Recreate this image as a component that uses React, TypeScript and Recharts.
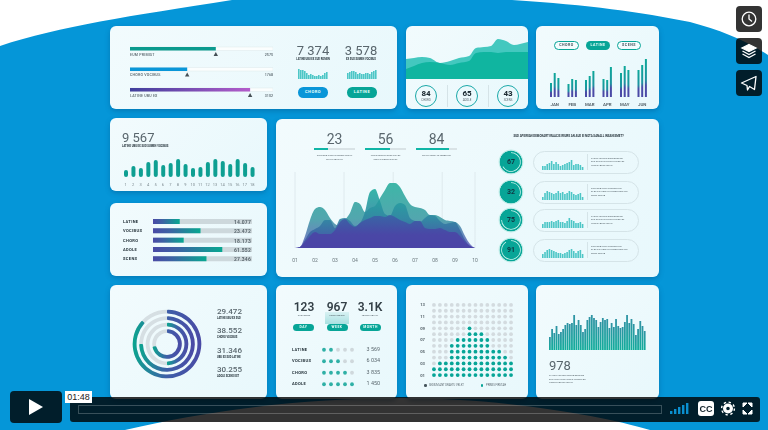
import {
  Area,
  AreaChart,
  Bar,
  BarChart,
  CartesianGrid,
  Cell,
  Pie,
  PieChart,
  PolarAngleAxis,
  RadialBar,
  RadialBarChart,
  Scatter,
  ScatterChart,
  XAxis,
  YAxis
} from 'recharts'

const TEAL = '#07a597'
const INDIGO = '#4a4aa6'
const MINT = '#4dc6c6'
const GREY = '#59666d'
const DARK = '#1d2b33'

// top left card
const progressNames = ['EUM PRIMIST', 'CHORO VOCIBUS', 'LATINE UBU EX']
const progressTotals = ['2575', '1768', '3102']
const progressValues = [60, 40, 84]
const progressFills = ['#0b9a8e', '#0a96d8', 'url(#purpleGrad)']
const spark1 = [10, 9, 9, 8, 6, 4, 5, 4, 3, 3, 4, 3, 4, 6, 7]
const spark2 = [6, 7, 8, 8, 7, 5, 6, 5, 5, 6, 6, 5, 7, 8, 9]

// small area card
const ridgeX = [0, 8, 16, 24, 34, 44, 53, 63, 70, 78, 85, 92, 100, 108, 114, 122]
const ridgeBack = [20, 21, 22, 21, 16, 18, 21, 23, 31, 32, 33, 40, 38, 34, 35, 37]
const ridgeFront = [10, 13, 16, 17, 16, 14, 16, 18, 26, 27, 27, 26, 27, 27, 27, 27]
const ringLabels = ['CHORO', 'ADOLE', 'SCENS']
const ringValues = ['84', '65', '43']

// grouped months card
const months = ['JAN', 'FEB', 'MAR', 'APR', 'MAY', 'JUN']
const choroBars = [14, 13, 17, 18, 24, 27]
const latineBars = [24, 18, 21, 17, 31, 32]
const scensBars = [19, 17, 26, 30, 27, 38]

// 9 567 card
const dayLabels = ['1', '2', '3', '4', '5', '6', '7', '8', '9', '10', '11', '12', '13', '14', '15', '16', '17', '18']
const dayValues = [7, 11, 9, 15, 17, 12, 14, 18, 13, 9, 10, 15, 18, 16, 13, 18, 14, 10]

// horizontal bars card
const shareNames = ['LATINE', 'VOCIBUS', 'CHORO', 'ADOLE', 'SCENS']
const shareTotals = ['14.077', '23.472', '18.173', '61.552', '27.346']
const shareValues = [27, 48, 31, 70, 54]

// main chart
const mainHeads = ['23', '56', '84']
const mainProgress = [33, 60, 80]
const mainX = [1, 1.25, 1.5, 1.75, 2, 2.25, 2.5, 2.75, 3, 3.25, 3.5, 3.75, 4, 4.25, 4.5, 4.75, 5, 5.25, 5.5, 5.75, 6, 6.25, 6.5, 6.75, 7, 7.25, 7.5, 7.75, 8, 8.25, 8.5, 8.75, 9, 9.25, 9.5, 9.75, 10]
const mainA = [0, 1, 12, 28, 39, 41, 38, 30, 24, 22, 28, 35, 46, 44, 36, 40, 42, 50, 58, 65, 65, 61, 52, 44, 41, 40, 38, 33, 33, 31, 28, 27, 26, 22, 12, 4, 0]
const mainB = [0, 1, 8, 16, 19, 22, 28, 28, 20, 29, 30, 27, 22, 25, 36, 56, 59, 47, 34, 32, 42, 45, 43, 30, 27, 26, 30, 33, 32, 27, 24, 25, 26, 18, 8, 2, 0]
const mainC = [0, 1, 6, 12, 16, 14, 14, 14, 18, 26, 29, 24, 21, 25, 28, 30, 32, 32, 31, 33, 31, 28, 26, 24, 27, 27, 20, 19, 19, 20, 18, 16, 16, 12, 6, 2, 0]
const mainGrid = [1, 1.82, 2.64, 3.45, 4.27, 5.09, 5.91, 6.73, 7.55, 8.36, 9.18, 10]
const mainTicks = [1, 2, 3, 4, 5, 6, 7, 8, 9, 10]

const scoreValues = [67, 32, 75, 91]
const scoreBars = [
  [4, 4, 6, 7, 9, 6, 8, 6, 4, 5, 6, 7, 8, 10, 5, 6, 6, 5, 3],
  [3, 7, 9, 8, 7, 6, 7, 9, 7, 8, 6, 7, 9, 8, 6, 5, 6, 7, 3],
  [4, 6, 6, 6, 7, 6, 7, 8, 6, 6, 5, 7, 10, 8, 7, 5, 5, 6, 4],
  [4, 6, 8, 9, 8, 7, 6, 5, 5, 4, 5, 6, 8, 9, 7, 5, 7, 8, 4]
]
const scoreNotes = [
  ['CHORO VOCIBUS AUDIA ZOECIME', 'DUO OLIM SUM PRIMIS TRITANI AN', 'POMPE LATINE UBU EX'],
  ['SUMPERIA SIMPLICITATEM SUM', 'ET AT NISI PAUSI TE TEMATIUTEM SUD', 'SEDIM IBER EA'],
  ['CHORO VOCIBUS AUDIA ZOECIME', 'DUO OLIM SUM PRIMIS TRITANI AN', 'POMPE LATINE UBU EX'],
  ['SUMPERIA SIMPLICITATEM SUM', 'ET AT NISI PAUSI TE TEMATIUTEM SUD', 'SEDIM IBER EA']
]

// rings card, inner ring first
const ringShare = [72, 50, 75, 87]
const ringTotals = ['29.472', '38.552', '31.346', '30.255']
const ringNotes = ['LATINE UBU EX SUD', 'CHORO VOCIBUS', 'UBU EX SUD LATINE', 'ADOLE SCENS EST']

// dots card
const periodHeads = ['123', '967', '3.1K']
const periodSubs = ['CUSTOMER', 'SCENS ADOLE', 'LATINE UBU EX']
const periodPills = ['DAY', 'WEEK', 'MONTH']
const dotNames = ['LATINE', 'VOCIBUS', 'CHORO', 'ADOLE']
const dotFilled = [2, 3, 4, 5]
const dotTotals = ['3 569', '6 034', '3 835', '1 450']

// dot matrix card, filled rows per column
const matrixFilled = [2, 3, 3, 6, 7, 7, 9, 8, 8, 7, 5, 5, 4, 3]
const matrixTicks = [1, 3, 5, 7, 9, 11, 13]

const waveValues = [13, 21, 17, 24, 16, 18, 21, 25, 27, 26, 27, 35, 25, 30, 25, 18, 21, 30, 33, 35, 32, 30, 23, 28, 32, 30, 31, 22, 27, 23, 31, 24, 22, 23, 28, 35, 27, 31, 26, 15, 21, 29, 24, 19]

const toRows = (values: number[]) => values.map((value, i) => ({ i, value }))

function Txt({ x, y, size, children, color = GREY, weight = 400, align = 'left', spacing = 0 }: any) {
  const shift = align === 'center' ? '-50%' : align === 'right' ? '-100%' : '0'
  return (
    <div
      style={{
        position: 'absolute',
        left: x,
        top: y,
        fontSize: size,
        fontWeight: weight,
        color,
        lineHeight: 1,
        letterSpacing: spacing,
        whiteSpace: 'nowrap',
        transform: `translate(${shift}, -50%)`
      }}
    >
      {children}
    </div>
  )
}

function Box({ x, y, w, h, style, children }: any) {
  return <div style={{ position: 'absolute', left: x, top: y, width: w, height: h, ...style }}>{children}</div>
}

function Card({ x, y, w, h }: any) {
  return (
    <Box
      x={x}
      y={y}
      w={w}
      h={h}
      style={{
        background: 'linear-gradient(135deg, #f2fbfd, #e8f8fc)',
        borderRadius: 6,
        boxShadow: '0 2px 5px rgba(0, 70, 120, 0.35)'
      }}
    />
  )
}

function Pill({ x, y, w, h, label, fill, size = 3.6 }: any) {
  return (
    <Box
      x={x}
      y={y}
      w={w}
      h={h}
      style={{
        background: fill || '#f4fcfe',
        border: fill ? 'none' : `1px solid ${TEAL}`,
        boxSizing: 'border-box',
        borderRadius: h / 2,
        color: fill ? '#e8fffb' : '#49585f',
        fontSize: size,
        fontWeight: 700,
        letterSpacing: 0.5,
        lineHeight: `${fill ? h : h - 2}px`,
        textAlign: 'center'
      }}
    >
      {label}
    </Box>
  )
}

function Spark({ x, y, w, h, values, max, size = 1.6 }: any) {
  return (
    <Box x={x} y={y} w={w} h={h}>
      <BarChart width={w} height={h} data={toRows(values)} margin={{ top: 0, right: 0, bottom: 0, left: 0 }}>
        <XAxis dataKey="i" hide />
        <YAxis hide domain={[0, max]} />
        <Bar dataKey="value" fill={MINT} barSize={size} isAnimationActive={false} />
      </BarChart>
    </Box>
  )
}

function ProgressBarShape(props: any) {
  const { x, y, width, height, index } = props
  const tipX = x + width
  return (
    <g>
      <rect x={x} y={y} width={width} height={height} fill={progressFills[index]} />
      <path d={`M ${tipX - 2.2} ${y + 9} L ${tipX + 2.2} ${y + 9} L ${tipX} ${y + 5} Z`} fill="#454f55" />
    </g>
  )
}

function ScoreRing({ x, y, value }: any) {
  return (
    <Box x={x - 14} y={y - 14} w={28} h={28}>
      <PieChart width={28} height={28} margin={{ top: 0, right: 0, bottom: 0, left: 0 }}>
        <Pie data={[{ value: 1 }]} dataKey="value" cx={14} cy={14} innerRadius={0} outerRadius={11.5} stroke="none" fill={TEAL} isAnimationActive={false} />
        <Pie data={[{ value: 1 }]} dataKey="value" cx={14} cy={14} innerRadius={11.5} outerRadius={12.4} stroke="none" fill="#bfece6" isAnimationActive={false} />
        <Pie
          data={[{ value }, { value: 100 - value }]}
          dataKey="value"
          cx={14}
          cy={14}
          innerRadius={9}
          outerRadius={9.8}
          startAngle={90}
          endAngle={-270}
          stroke="none"
          isAnimationActive={false}
        >
          <Cell fill="#c9f3ec" />
          <Cell fill={TEAL} />
        </Pie>
      </PieChart>
    </Box>
  )
}

function MatrixDot({ cx, cy, fill }: any) {
  return <circle cx={cx} cy={cy} r={1.9} fill={fill} />
}

function Backdrop() {
  return (
    <svg width={768} height={430} style={{ position: 'absolute', left: 0, top: 0 }}>
      <path
        d="M0 46 C 60 26, 130 16, 232 0 L 512 0 C 590 5, 640 12, 690 22 C 720 30, 745 40, 768 55 L 768 430 L 650 430 C 600 415, 500 398, 400 398 C 300 398, 200 412, 125 430 L 0 430 Z"
        fill="#0596d8"
      />
    </svg>
  )
}

function TopRow() {
  const progressRows = progressValues.map((value, i) => ({ name: progressNames[i], value }))
  const ridgeRows = ridgeX.map((x, i) => ({ x, back: ridgeBack[i], front: ridgeFront[i] }))
  const monthRows = months.map((month, i) => ({ month, a: choroBars[i], b: latineBars[i], c: scensBars[i] }))

  return (
    <>
      <Card x={110} y={26} w={287} h={83} />
      <Box x={130} y={37.75} w={143} h={61.5}>
        <BarChart layout="vertical" width={143} height={61.5} data={progressRows} margin={{ top: 0, right: 0, bottom: 0, left: 0 }}>
          <defs>
            <linearGradient id="purpleGrad" x1="0" y1="0" x2="1" y2="0">
              <stop offset="0%" stopColor="#3f3f9c" />
              <stop offset="100%" stopColor="#b45ccb" />
            </linearGradient>
          </defs>
          <XAxis type="number" hide domain={[0, 100]} />
          <YAxis type="category" dataKey="name" hide />
          <Bar
            dataKey="value"
            barSize={3.5}
            background={{ fill: '#fbfefe', stroke: '#dce8ea', strokeWidth: 0.5 }}
            shape={<ProgressBarShape />}
            isAnimationActive={false}
          />
        </BarChart>
      </Box>
      {progressNames.map((name, i) => (
        <Txt key={name} x={130} y={56 + i * 20.3} size={3.6} weight={500} spacing={0.2}>
          {name}
        </Txt>
      ))}
      {progressTotals.map((total, i) => (
        <Txt key={total} x={273} y={56 + i * 20.3} size={3.6} weight={500} align="right">
          {total}
        </Txt>
      ))}

      <Txt x={313} y={50} size={13} align="center">7 374</Txt>
      <Txt x={361} y={50} size={13} align="center">3 578</Txt>
      <Txt x={313} y={59.5} size={2.6} align="center" weight={700} color={DARK}>LATINE UBU EX SUD ROMEN</Txt>
      <Txt x={361} y={59.5} size={2.6} align="center" weight={700} color={DARK}>EX SUD SUMEN VOCIBUS</Txt>
      <Spark x={298} y={68} w={30} h={11} values={spark1} max={11} />
      <Spark x={347} y={68} w={30} h={11} values={spark2} max={11} />
      <Pill x={298} y={87} w={30} h={10.5} label="CHORO" fill="#0a96d8" size={4} />
      <Pill x={347} y={87} w={30} h={10.5} label="LATINE" fill={TEAL} size={4} />

      <Card x={406} y={26} w={122} h={83} />
      <Box x={406} y={26} w={122} h={53}>
        <AreaChart width={122} height={53} data={ridgeRows} margin={{ top: 0, right: 0, bottom: 0, left: 0 }}>
          <XAxis type="number" dataKey="x" hide domain={[0, 122]} />
          <YAxis hide domain={[0, 53]} />
          <Area dataKey="back" type="monotone" stroke="none" fill="#43c8bf" fillOpacity={1} isAnimationActive={false} />
          <Area dataKey="front" type="monotone" stroke="none" fill="#10b5a0" fillOpacity={1} isAnimationActive={false} />
        </AreaChart>
      </Box>
      {ringValues.map((value, i) => (
        <div key={ringLabels[i]}>
          <Box
            x={415 + i * 41}
            y={85}
            w={22}
            h={22}
            style={{ border: '1.2px solid #1aa8a8', borderRadius: '50%', boxSizing: 'border-box' }}
          />
          <Txt x={426 + i * 41} y={94} size={8} weight={800} color={DARK} align="center">{value}</Txt>
          <Txt x={426 + i * 41} y={100} size={2.8} color={GREY} align="center">{ringLabels[i]}</Txt>
        </div>
      ))}
      <Box x={447} y={85} w={0.6} h={22} style={{ background: '#d5e3e7' }} />
      <Box x={488} y={85} w={0.6} h={22} style={{ background: '#d5e3e7' }} />

      <Card x={536} y={26} w={123} h={83} />
      <Pill x={554} y={41} w={25} h={9} label="CHORO" />
      <Pill x={586} y={41} w={24} h={9} label="LATINE" fill={TEAL} />
      <Pill x={617} y={41} w={24} h={9} label="SCENS" />
      <Box x={546} y={55} w={105} h={51}>
        <BarChart width={105} height={51} data={monthRows} margin={{ top: 0, right: 0, bottom: 0, left: 0 }} barGap={1.7}>
          <defs>
            <linearGradient id="monthGrad" x1="0" y1="0" x2="0" y2="1">
              <stop offset="0%" stopColor="#0da899" />
              <stop offset="55%" stopColor="#1d93a0" />
              <stop offset="70%" stopColor={INDIGO} />
              <stop offset="100%" stopColor={INDIGO} />
            </linearGradient>
          </defs>
          <XAxis
            dataKey="month"
            axisLine={false}
            tickLine={false}
            height={9}
            interval={0}
            tickMargin={0}
            tick={{ fontSize: 4.4, fontWeight: 700, fill: GREY }}
          />
          <YAxis hide domain={[0, 42]} />
          <Bar dataKey="a" barSize={2} fill="url(#monthGrad)" isAnimationActive={false} />
          <Bar dataKey="b" barSize={2} fill="url(#monthGrad)" isAnimationActive={false} />
          <Bar dataKey="c" barSize={2} fill="url(#monthGrad)" isAnimationActive={false} />
        </BarChart>
      </Box>
    </>
  )
}

function LeftColumn() {
  const dayRows = dayLabels.map((label, i) => ({ label, value: dayValues[i] }))
  const shareRows = shareNames.map((name, i) => ({ name, value: shareValues[i] }))

  return (
    <>
      <Card x={110} y={118} w={157} h={73} />
      <Txt x={122} y={136.5} size={13}>9 567</Txt>
      <Txt x={122} y={146} size={2.7} weight={700} color={DARK}>LATINE UBU EX SUD SUMEN VOCIBUS</Txt>
      <Box x={122} y={150} w={134} h={36}>
        <BarChart width={134} height={36} data={dayRows} margin={{ top: 0, right: 0, bottom: 0, left: 0 }}>
          <XAxis
            dataKey="label"
            axisLine={false}
            tickLine={false}
            height={9}
            interval={0}
            tickMargin={0}
            tick={{ fontSize: 4, fill: '#7d8a90' }}
          />
          <YAxis hide domain={[0, 27]} />
          <Bar dataKey="value" fill="#0e9f92" barSize={4} radius={2} isAnimationActive={false} />
        </BarChart>
      </Box>

      <Card x={110} y={203} w={157} h={73} />
      <Box x={153} y={217.3} w={99} h={46.7}>
        <BarChart layout="vertical" width={99} height={46.7} data={shareRows} margin={{ top: 0, right: 0, bottom: 0, left: 0 }}>
          <defs>
            <linearGradient id="shareGrad" x1="0" y1="0" x2="1" y2="0">
              <stop offset="0%" stopColor={INDIGO} />
              <stop offset="35%" stopColor="#3d62a4" />
              <stop offset="100%" stopColor="#07a891" />
            </linearGradient>
          </defs>
          <XAxis type="number" hide domain={[0, 100]} />
          <YAxis type="category" dataKey="name" hide />
          <Bar dataKey="value" barSize={5} fill="url(#shareGrad)" background={{ fill: '#cdd8dc' }} isAnimationActive={false} />
        </BarChart>
      </Box>
      {shareNames.map((name, i) => (
        <Txt key={name} x={123} y={222 + i * 9.33} size={4} weight={700} color={DARK} spacing={0.35}>
          {name}
        </Txt>
      ))}
      {shareTotals.map((total, i) => (
        <Txt key={total} x={251} y={222 + i * 9.33} size={5} weight={700} color="#5a676e" align="right" spacing={0.2}>
          {total}
        </Txt>
      ))}
    </>
  )
}

function MainPanel() {
  const mainRows = mainX.map((x, i) => ({ x, a: mainA[i], b: mainB[i], c: mainC[i] }))

  return (
    <>
      <Card x={276} y={119} w={383} h={158} />
      {mainHeads.map((head, i) => (
        <div key={head}>
          <Txt x={334.5 + i * 51} y={139} size={14}align="center">{head}</Txt>
          <Box x={314 + i * 51} y={148} w={41} h={1.5} style={{ background: '#d9e3e6' }} />
          <Box x={314 + i * 51} y={148} w={(41 * mainProgress[i]) / 100} h={1.5} style={{ background: '#10b5a6' }} />
        </div>
      ))}
      <Txt x={334.5} y={156} size={2.2} align="center">SUMPERIA SIMPLICITATEM SUM ET</Txt>
      <Txt x={334.5} y={160} size={2.2} align="center">AT NISI PAUSI TE</Txt>
      <Txt x={385.5} y={156} size={2.2} align="center">TINCIDTENDUM EGER NISI AN</Txt>
      <Txt x={385.5} y={160} size={2.2} align="center">SIMPLICITATEM SUM ET</Txt>
      <Txt x={436.5} y={156} size={2.2} align="center">AT NISI PAUSI TE TEMATIOM</Txt>

      <Box x={285} y={172} w={200} h={90}>
        <AreaChart width={200} height={90} data={mainRows} margin={{ top: 0, right: 10, bottom: 0, left: 10 }}>
          <defs>
            <linearGradient id="mainA" x1="0" y1="0" x2="0" y2="1">
              <stop offset="0%" stopColor="#35b3a3" stopOpacity={0.95} />
              <stop offset="55%" stopColor="#4aa2aa" stopOpacity={0.95} />
              <stop offset="100%" stopColor="#5a55b8" stopOpacity={0.8} />
            </linearGradient>
            <linearGradient id="mainB" x1="0" y1="0" x2="0" y2="1">
              <stop offset="0%" stopColor="#1dac9d" stopOpacity={0.88} />
              <stop offset="50%" stopColor="#2f85a2" stopOpacity={0.88} />
              <stop offset="100%" stopColor="#4848a8" stopOpacity={0.95} />
            </linearGradient>
            <linearGradient id="mainC" x1="0" y1="0" x2="0" y2="1">
              <stop offset="0%" stopColor="#3a5fa6" stopOpacity={0.85} />
              <stop offset="60%" stopColor="#4a47a6" stopOpacity={1} />
              <stop offset="100%" stopColor="#4a44a6" stopOpacity={1} />
            </linearGradient>
          </defs>
          <CartesianGrid horizontal={false} verticalValues={mainGrid} stroke="#dbe6ea" strokeWidth={0.8} />
          <XAxis
            type="number"
            dataKey="x"
            domain={[1, 10]}
            ticks={mainTicks}
            tickFormatter={(tick: number) => String(tick).padStart(2, '0')}
            axisLine={false}
            tickLine={false}
            height={14}
            tickMargin={4}
            tick={{ fontSize: 5, fill: '#6b787e' }}
          />
          <YAxis hide domain={[0, 76]} />
          <Area dataKey="a" type="monotone" stroke="none" fill="url(#mainA)" fillOpacity={1} isAnimationActive={false} />
          <Area dataKey="b" type="monotone" stroke="none" fill="url(#mainB)" fillOpacity={1} isAnimationActive={false} />
          <Area dataKey="c" type="monotone" stroke="none" fill="url(#mainC)" fillOpacity={1} isAnimationActive={false} />
        </AreaChart>
      </Box>

      <Txt x={568.5} y={136} size={2.9} weight={700} color={DARK} align="center">
        SUD APEIRIAN DEMOKART IRAACIS IRIURE AN AUD EI NOTA SANALL INSANISMET?
      </Txt>
      {scoreValues.map((value, i) => {
        const y = [162, 192, 220, 250][i]
        return (
          <div key={value}>
            <ScoreRing x={511} y={y} value={value} />
            <Txt x={511} y={y} size={7} weight={800} color="#103a46" align="center">{value}</Txt>
            <Box
              x={533}
              y={y - 11.5}
              w={106}
              h={23}
              style={{ border: '0.8px solid #d5e4e8', borderRadius: 12, boxSizing: 'border-box' }}
            />
            <Spark x={542} y={y - 4} w={42} h={12} values={scoreBars[i]} max={12} />
            <Box x={587} y={y - 8} w={0.5} h={16} style={{ background: '#d5e4e8' }} />
            {scoreNotes[i].map((note, n) => (
              <Txt key={n} x={591} y={y - 3.5 + n * 3.5} size={2.1}>{note}</Txt>
            ))}
          </div>
        )
      })}
    </>
  )
}

function BottomRow() {
  const ringRows = ringShare.map((value, i) => ({ name: ringNotes[i], value }))
  const dotGreen = dotFilled.flatMap((count, row) => Array.from({ length: count }, (_, col) => ({ col: col + 1, row: 4 - row })))
  const dotGrey = dotFilled.flatMap((count, row) => Array.from({ length: 5 - count }, (_, col) => ({ col: count + col + 1, row: 4 - row })))
  const matrixGreen = matrixFilled.flatMap((count, col) => Array.from({ length: count }, (_, row) => ({ col: col + 1, row: row + 1 })))
  const matrixGrey = matrixFilled.flatMap((count, col) => Array.from({ length: 13 - count }, (_, row) => ({ col: col + 1, row: count + row + 1 })))

  return (
    <>
      <Card x={110} y={285} w={157} h={114} />
      <Box x={127} y={304} w={80} h={80}>
        <RadialBarChart
          width={80}
          height={80}
          data={ringRows}
          innerRadius={10}
          outerRadius={36}
          startAngle={90}
          endAngle={-270}
          barSize={3.8}
          margin={{ top: 0, right: 0, bottom: 0, left: 0 }}
        >
          <defs>
            <linearGradient id="ringGrad" x1="1" y1="0" x2="0" y2="0">
              <stop offset="0%" stopColor={INDIGO} />
              <stop offset="50%" stopColor="#3e5ea8" />
              <stop offset="100%" stopColor="#0ba58f" />
            </linearGradient>
          </defs>
          <PolarAngleAxis type="number" domain={[0, 100]} tick={false} />
          <RadialBar dataKey="value" fill="url(#ringGrad)" background={{ fill: '#d6dfe3' }} cornerRadius={1} isAnimationActive={false} />
        </RadialBarChart>
      </Box>
      {ringTotals.map((total, i) => (
        <div key={total}>
          <Txt x={217} y={312 + i * 19.4} size={8} weight={500}>{total}</Txt>
          <Txt x={217} y={319 + i * 19.4} size={2.6} weight={700} color={DARK}>{ringNotes[i]}</Txt>
        </div>
      ))}

      <Card x={276} y={285} w={121} h={114} />
      <Box
        x={325}
        y={312}
        w={24}
        h={12}
        style={{ background: 'linear-gradient(#d8f2f3, #a9e0e0)' }}
      />
      {periodHeads.map((head, i) => (
        <div key={head}>
          <Txt x={304 + i * 33} y={307} size={12} weight={600} color="#333f46" align="center">{head}</Txt>
          <Txt x={304 + i * 33} y={316} size={2.4} align="center">{periodSubs[i]}</Txt>
          <Pill x={293 + i * 33.5} y={323.5} w={21} h={7.5} label={periodPills[i]} fill={TEAL} size={3.4} />
        </div>
      ))}
      <Box x={320} y={344} w={36} h={46}>
        <ScatterChart width={36} height={46} margin={{ top: 0, right: 0, bottom: 0, left: 0 }}>
          <XAxis type="number" dataKey="col" hide domain={[0.43, 5.57]} />
          <YAxis type="number" dataKey="row" hide domain={[0.5, 4.5]} />
          <Scatter data={dotGrey} fill="#cfd8dc" shape={<MatrixDot />} isAnimationActive={false} />
          <Scatter data={dotGreen} fill="#2fb0a6" shape={<MatrixDot />} isAnimationActive={false} />
        </ScatterChart>
      </Box>
      {dotNames.map((name, i) => (
        <div key={name}>
          <Txt x={292} y={350 + i * 11.4} size={4} weight={700} color={DARK} spacing={0.35}>{name}</Txt>
          <Txt x={380} y={350 + i * 11.4} size={5.4} align="right">{dotTotals[i]}</Txt>
        </div>
      ))}

      <Card x={406} y={285} w={122} h={114} />
      <Box x={416} y={302} w={98} h={76}>
        <ScatterChart width={98} height={76} margin={{ top: 0, right: 0, bottom: 0, left: 0 }}>
          <XAxis type="number" dataKey="col" hide domain={[0.5, 14.5]} />
          <YAxis
            type="number"
            dataKey="row"
            domain={[0.5, 13.5]}
            ticks={matrixTicks}
            tickFormatter={(tick: number) => String(tick).padStart(2, '0')}
            width={15}
            axisLine={false}
            tickLine={false}
            tickMargin={0}
            tick={{ fontSize: 4.2, fontWeight: 700, fill: GREY }}
          />
          <Scatter data={matrixGrey} fill="#d3dbdf" shape={<MatrixDot />} isAnimationActive={false} />
          <Scatter data={matrixGreen} fill={TEAL} shape={<MatrixDot />} isAnimationActive={false} />
        </ScatterChart>
      </Box>
      <Box x={424} y={384} w={2.6} h={2.6} style={{ background: '#47555c', borderRadius: '50%' }} />
      <Txt x={429} y={385.3} size={2.7}>SEDIUM ANT DRAETU VELKT</Txt>
      <Box x={480.6} y={384} w={2.6} h={2.6} style={{ background: TEAL, borderRadius: '50%' }} />
      <Txt x={486} y={385.3} size={2.7}>PRIMIS FIRSTAH</Txt>

      <Card x={536} y={285} w={123} h={114} />
      <Box x={549} y={308} w={97} h={42}>
        <BarChart width={97} height={42} data={toRows(waveValues)} margin={{ top: 0, right: 0, bottom: 0, left: 0 }}>
          <defs>
            <linearGradient id="waveGrad" x1="0" y1="0" x2="0" y2="1">
              <stop offset="0%" stopColor="#2f93a4" />
              <stop offset="100%" stopColor="#12ad9b" />
            </linearGradient>
          </defs>
          <XAxis dataKey="i" hide />
          <YAxis hide domain={[0, 42]} />
          <Bar dataKey="value" fill="url(#waveGrad)" barSize={1.8} isAnimationActive={false} />
        </BarChart>
      </Box>
      <Txt x={549} y={365} size={13}>978</Txt>
      <Txt x={549} y={376} size={2.3}>CHORO VOCIBUS AUDIA ZOECIME</Txt>
      <Txt x={549} y={379.5} size={2.3}>DUO OLIM SUM PRIMIS TRITANI AN</Txt>
      <Txt x={549} y={383} size={2.3}>POMPE LATINE UBU EX</Txt>
    </>
  )
}

function PlayerIcon({ y, children }: any) {
  return (
    <Box x={736} y={y} w={26} h={26} style={{ background: 'rgba(0,0,0,0.8)', borderRadius: 4 }}>
      <svg width={26} height={26} fill="none" stroke="#fff" strokeWidth={1.3}>
        {children}
      </svg>
    </Box>
  )
}

function Player() {
  const volume = [3, 5, 7, 9, 11]
  return (
    <>
      <PlayerIcon y={6}>
        <circle cx={13} cy={13} r={6.8} />
        <path d="M13 8.5 V13 L16 15.5" />
      </PlayerIcon>
      <PlayerIcon y={38}>
        <path d="M13 6.5 L20 10 L13 13.5 L6 10 Z" fill="#fff" />
        <path d="M6.5 13 L13 16.5 L19.5 13 M6.5 16 L13 19.5 L19.5 16" />
      </PlayerIcon>
      <PlayerIcon y={70}>
        <path d="M20 6.5 L18.5 19.5 L13.5 16.5 L11.5 20 L11 15.5 L5.5 13 Z" strokeLinejoin="round" />
      </PlayerIcon>

      <Box x={10} y={391} w={52} h={32} style={{ background: 'rgba(0,0,0,0.8)', borderRadius: 4 }}>
        <svg width={52} height={32}>
          <path d="M19 8 L19 24 L33 16 Z" fill="#fff" />
        </svg>
      </Box>
      <Box x={70} y={397} w={690} h={25} style={{ background: 'rgba(0,0,0,0.8)', borderRadius: 3 }} />
      <Box x={78} y={405} w={584} h={9} style={{ border: '1px solid rgba(255,255,255,0.22)', boxSizing: 'border-box' }} />
      <Box
        x={65}
        y={391}
        w={27}
        h={12}
        style={{
          background: '#fff',
          fontFamily: 'Liberation Sans',
          fontSize: 9,
          lineHeight: '12px',
          textAlign: 'center',
          color: '#222'
        }}
      >
        01:48
      </Box>
      <svg width={100} height={25} style={{ position: 'absolute', left: 668, top: 397 }}>
        {volume.map((h, i) => (
          <rect key={i} x={2 + i * 4} y={17 - h} width={2.4} height={h} fill="#0a8fd0" />
        ))}
        <rect x={30} y={4} width={16} height={15} rx={3} fill="#fff" />
        <text x={38} y={15} fontSize={9} fontWeight={700} textAnchor="middle" fill="#12232c" fontFamily="Liberation Sans">CC</text>
        <circle cx={60} cy={11.5} r={3.4} fill="none" stroke="#fff" strokeWidth={3.2} />
        <circle cx={60} cy={11.5} r={6.4} fill="none" stroke="#fff" strokeWidth={1.4} strokeDasharray="2.4 2.6" />
        <path d="M75 6 H79 L75 10 Z M84 6 H80 L84 10 Z M75 17 H79 L75 13 Z M84 17 H80 L84 13 Z" fill="#fff" stroke="#fff" />
      </svg>
    </>
  )
}

export default function App() {
  return (
    <div
      style={{
        position: 'fixed',
        left: 0,
        top: 0,
        width: 768,
        height: 430,
        overflow: 'hidden',
        background: '#fff',
        fontFamily: 'Roboto, sans-serif'
      }}
    >
      <Backdrop />
      <div style={{ position: 'absolute', left: 0, top: 0, width: 768, height: 430, filter: 'blur(0.45px)' }}>
        <TopRow />
        <LeftColumn />
        <MainPanel />
        <BottomRow />
      </div>
      <Player />
    </div>
  )
}
